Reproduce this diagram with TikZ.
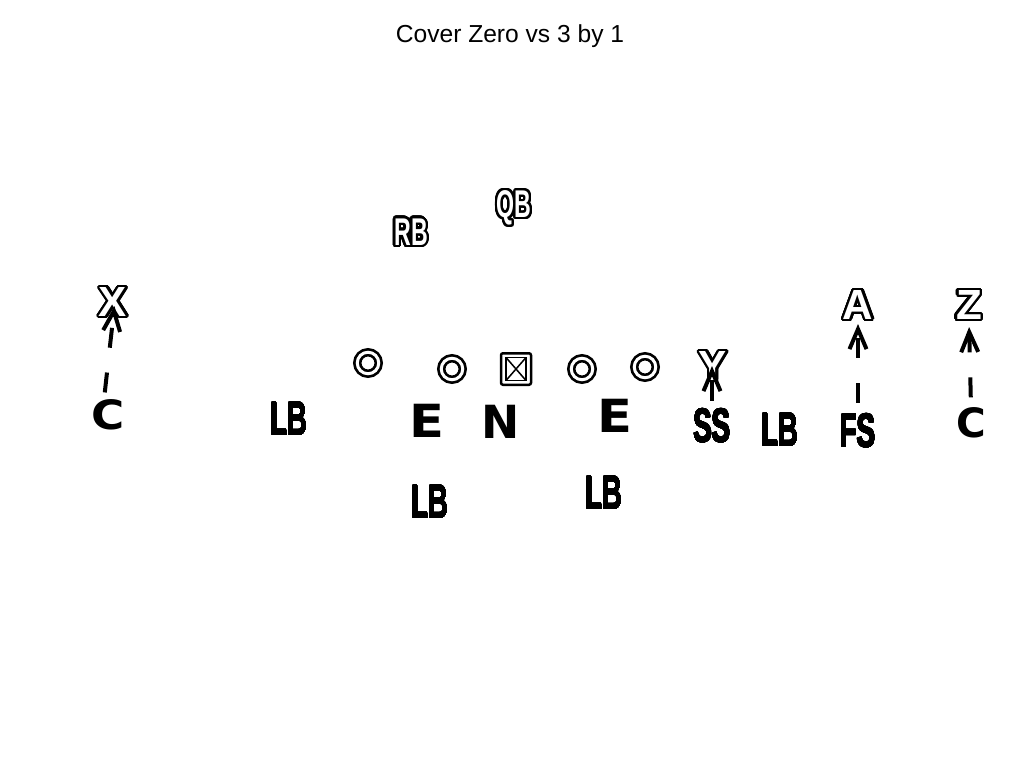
\documentclass[tikz,border=0pt]{standalone}
\usepackage{fontspec}
\setmainfont{Liberation Sans}
\newfontfamily\widefont{DejaVu Sans}
\usepackage{graphicx}
\usepackage{contour}
\usetikzlibrary{arrows.meta}
\contournumber{32}
\newcommand{\offtag}[1]{{\contourlength{1.3pt}\contour{black}{\textcolor{white}{#1}}}}
\newcommand{\narrowtag}[1]{{\contourlength{0.2pt}\contour{black}{\scalebox{0.58}[1]{#1}}}}
\newcommand{\widetag}[1]{\scalebox{1.12}[1]{#1}}

\begin{document}
\begin{tikzpicture}[x=0.02cm,y=-0.02cm,
  every node/.style={inner sep=0pt},
  off/.style={font=\fontsize{24}{26}\selectfont\bfseries},
  backer/.style={font=\fontsize{27}{29}\selectfont\bfseries},
  wide/.style={font=\widefont\fontsize{26}{28}\selectfont\bfseries},
  corner/.style={font=\widefont\fontsize{23}{25}\selectfont\bfseries},
  lineman/.style={circle,draw,line width=0.054cm,double,double distance=0.06cm,minimum size=0.43cm},
  snapper/.style={rectangle,rounded corners=0.04cm,draw,line width=0.05cm,minimum width=0.6cm,minimum height=0.63cm},
  route/.style={line width=0.08cm,dash pattern=on 0.4cm off 0.5cm,-{Straight Barb[length=0.4cm,width=0.34cm]}}]
      \fill[white] (0,0) rectangle (1024,768);
      \useasboundingbox (0,0) rectangle (1024,768);
      \node[font=\fontsize{14}{16}\selectfont] (title) at (510,36) {Cover Zero vs 3 by 1};

      \node[off] (x) at (113,303) {\offtag{X}};
      \node[off,font=\fontsize{22}{24}\selectfont\bfseries] (rb) at (411,233) {\offtag{\scalebox{0.6}[1]{RB}}};
      \node[off,font=\fontsize{22}{24}\selectfont\bfseries] (qb) at (514,209) {\offtag{\scalebox{0.6}[1]{QB}}};
      \node[off] (y) at (713,367) {\offtag{Y}};
      \node[off] (a) at (858,306) {\offtag{A}};
      \node[off] (z) at (969,306) {\offtag{Z}};

      \node[lineman] (lt) at (368,363) {};
      \node[lineman] (lg) at (452,369) {};
      \node[snapper] (ce) at (516,369) {};
      \node[lineman] (rg) at (582,369) {};
      \node[lineman] (rt) at (645,367) {};
      \draw[line width=0.03cm] ([shift={(-0.2cm,-0.23cm)}]ce.center) rectangle ([shift={(0.2cm,0.23cm)}]ce.center);
      \draw[line width=0.03cm] ([shift={(-0.2cm,-0.23cm)}]ce.center) -- ([shift={(0.2cm,0.23cm)}]ce.center);
      \draw[line width=0.03cm] ([shift={(-0.2cm,0.23cm)}]ce.center) -- ([shift={(0.2cm,-0.23cm)}]ce.center);

      \node[corner] (cl) at (108,415) {\widetag{C}};
      \node[backer] (lb1) at (289,419) {\narrowtag{LB}};
      \node[wide] (e1) at (427,421) {\widetag{E}};
      \node[wide] (n) at (501,422) {N};
      \node[wide] (e2) at (615,416) {\widetag{E}};
      \node[backer] (ss) at (712,426) {\narrowtag{SS}};
      \node[backer] (lb2) at (780,430) {\narrowtag{LB}};
      \node[backer] (fs) at (858,431) {\narrowtag{FS}};
      \node[corner] (cr) at (971,423) {C};
      \node[backer] (lb3) at (430,502) {\narrowtag{LB}};
      \node[backer] (lb4) at (604,493) {\narrowtag{LB}};

      \draw[route,shorten <=0.14cm,shorten >=-0.26cm] ([xshift=-0.08cm]cl.north) -- (x.south);
      \draw[route,shorten <=0.16cm,shorten >=-0.34cm] (ss.north) -- (ss.north |- y.south);
      \draw[route,shorten <=0.22cm,shorten >=0.04cm] (fs.north) -- (a.south);
      \draw[route,shorten <=0.2cm,shorten >=0.1cm] (cr.north) -- (z.south);
    \end{tikzpicture}
\end{document}
